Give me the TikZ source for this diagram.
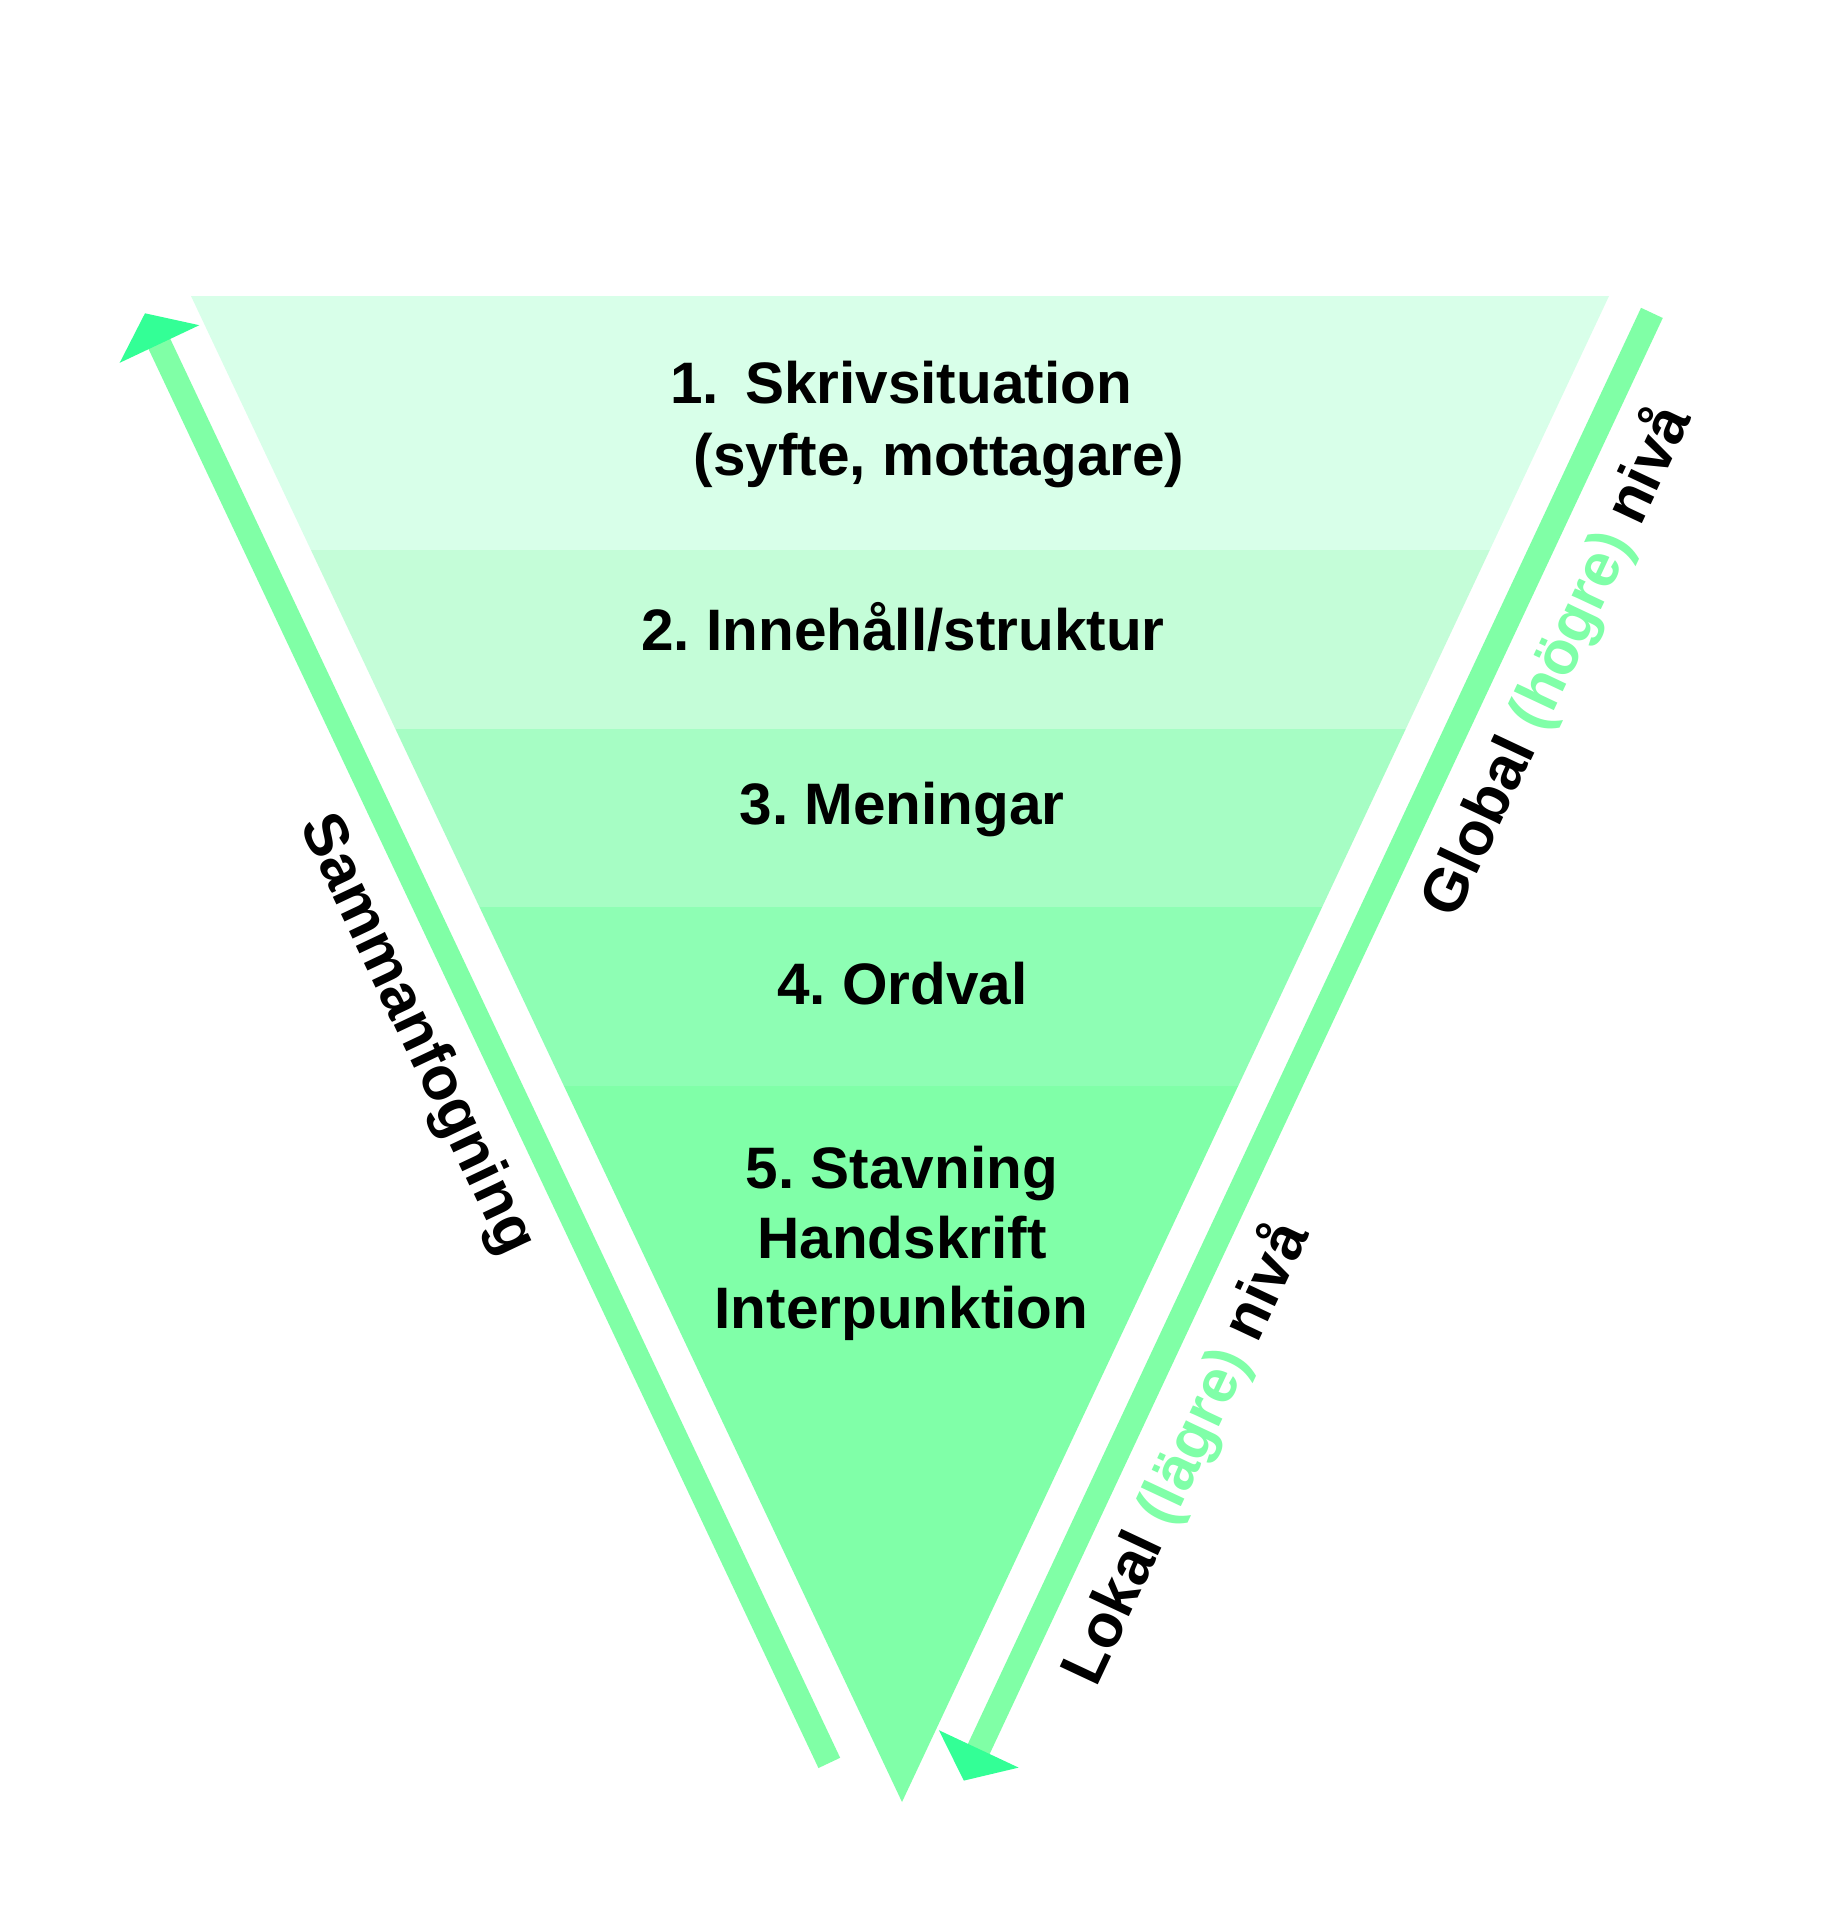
\documentclass[tikz,border=0pt]{standalone}
\usepackage{fontspec}
\setmainfont{Liberation Sans}
\usetikzlibrary{calc}
\definecolor{bandA}{HTML}{D8FFE9}
\definecolor{bandB}{HTML}{C4FDD8}
\definecolor{bandC}{HTML}{A6FDC4}
\definecolor{bandD}{HTML}{8EFEB4}
\definecolor{bandE}{HTML}{80FFA8}
\definecolor{shaftg}{HTML}{80FFA6}
\definecolor{headg}{HTML}{33FF96}
\frenchspacing
\begin{document}
\begin{tikzpicture}[x=1pt,y=-1pt,
  lbl/.style={font=\bfseries\fontsize{58.5}{70}\selectfont, inner sep=0pt, anchor=base, text=black},
  side/.style={font=\bfseries\fontsize{61}{70}\selectfont, inner sep=0pt, text=black},
  shaft/.style={line width=24pt, draw=shaftg, line cap=butt},
  head/.style={fill=headg, draw=none}]
\useasboundingbox (0,0) rectangle (1826,1911);
\fill[white] (0,0) rectangle (1826,1911);
% triangle
\coordinate (TL) at (191,296);
\coordinate (TR) at (1609,296);
\coordinate (B) at (902,1802);
\begin{scope}
  \clip (TL) -- (TR) -- (B) -- cycle;
  \fill[bandA] (0,290) rectangle (1826,550);
  \fill[bandB] (0,550) rectangle (1826,729);
  \fill[bandC] (0,729) rectangle (1826,907);
  \fill[bandD] (0,907) rectangle (1826,1086);
  \fill[bandE] (0,1086) rectangle (1826,1810);
\end{scope}
% left arrow (upwards)
\coordinate (Ls) at (829.3,1762.9);
\coordinate (Le) at (155.2,335);
\coordinate (Lt) at (145,313.3);
\coordinate (Lc1) at (199.3,325.2);
\coordinate (Lc2) at (119.7,362.8);
\draw[shaft] (Ls) -- (Le);
\fill[head] (Lt) -- (Lc1) -- (Lc2) -- cycle;
% right arrow (downwards)
\coordinate (Rs) at (1651.9,312.9);
\coordinate (Re) at (974.5,1758);
\coordinate (Rt) at (963.8,1780.6);
\coordinate (Rc1) at (938.9,1730.2);
\coordinate (Rc2) at (1018.6,1767.6);
\draw[shaft] (Rs) -- (Re);
\fill[head] (Rt) -- (Rc1) -- (Rc2) -- cycle;
% level texts
\node[lbl] (t1a) at (901,403) {1.\hspace{10pt} Skrivsituation};
\node[lbl] (t1b) at (939,475) {(syfte, mottagare)};
\node[lbl] (t2) at (903,650) {2. Innehåll/struktur};
\node[lbl] (t3) at (902,824) {3. Meningar};
\node[lbl] (t4) at (902.5,1004) {4. Ordval};
\node[lbl] (t5a) at (902,1188) {5. Stavning};
\node[lbl] (t5b) at (902,1258) {Handskrift};
\node[lbl] (t5c) at (901.5,1328) {Interpunktion};
% side texts
\node[side, rotate=-64.7] (sam) at (416,1035) {Sammanfogning};
\node[side, rotate=64.85] (glob) at (1557,661) {Global {\color{bandE}(högre)} nivå};
\node[side, rotate=64.85] (lok) at (1186,1453) {Lokal {\color{bandE}(lägre)} nivå};
\end{tikzpicture}
\end{document}
